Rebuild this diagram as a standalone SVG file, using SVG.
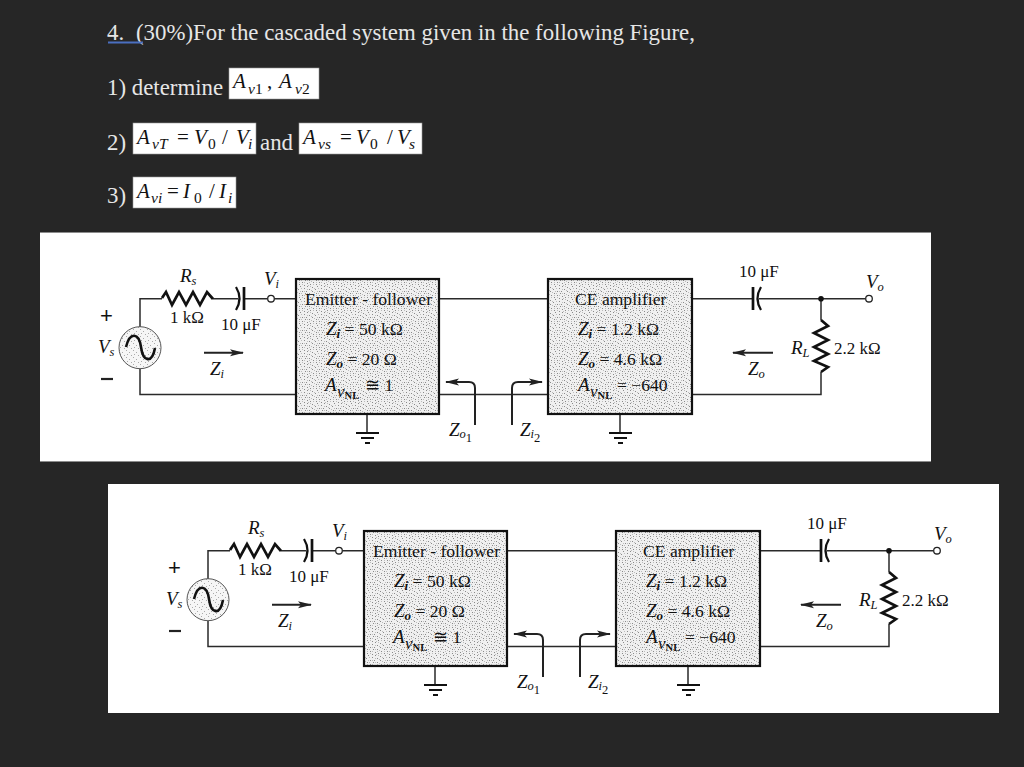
<svg xmlns="http://www.w3.org/2000/svg" width="1024" height="767" viewBox="0 0 1024 767">
<style>
.q{font-family:"Liberation Serif",serif;fill:#e6e6e6;font-size:22.85px}
.m{font-family:"Liberation Serif",serif;fill:#111;font-size:21px;font-style:italic}
.n{font-style:normal}
.s{font-size:15.5px}
.t{font-family:"Liberation Serif",serif;fill:#111;font-size:17.6px}
.l{font-size:17px}
.i{font-style:italic;font-size:19px}
.sub{font-size:12.5px}
.sb{font-size:13px;font-weight:bold}
.v{font-style:italic;font-size:17px}
.nl{font-size:10.5px;font-style:normal;font-weight:bold}
.w{fill:none;stroke:#2a2a2a;stroke-width:1.5}
.h{fill:none;stroke:#111;stroke-width:2.7}
.c{fill:none;stroke:#111;stroke-width:2.2}
.a{fill:none;stroke:#222;stroke-width:2}
.g{stroke:#111;stroke-width:2.2;fill:none}
.box{fill:url(#stip);stroke:#111;stroke-width:2.2}
.src{fill:url(#stipL);stroke:#555;stroke-width:1}
.pm{font-family:"Liberation Sans",sans-serif;fill:#111;font-size:22px}
</style>
<defs>
<pattern id="stip" width="17" height="13" patternUnits="userSpaceOnUse">
<rect width="17" height="13" fill="#f0f0f0"/>
<path d="M1 0h1v1H1zM6 1h1v1H6zM11 0h1v1h-1zM15 2h1v1h-1zM3 3h1v1H3zM9 3h1v1H9zM13 5h1v1h-1zM0 5h1v1H0zM6 5h1v1H6zM3 7h1v1H3zM10 7h1v1h-1zM16 7h1v1h-1zM7 9h1v1H7zM1 10h1v1H1zM13 9h1v1h-1zM4 11h1v1H4zM10 11h1v1h-1zM15 12h1v1h-1z" fill="#8a8a8a"/>
<path d="M4 0h1v1H4zM8 2h1v1H8zM12 2h1v1h-1zM1 3h1v1H1zM5 4h1v1H5zM11 5h1v1h-1zM15 5h1v1h-1zM8 6h1v1H8zM1 7h1v1H1zM5 8h1v1H5zM12 7h1v1h-1zM15 9h1v1h-1zM3 9h1v1H3zM10 9h1v1h-1zM7 11h1v1H7zM13 11h1v1h-1zM2 12h1v1H2z" fill="#bdbdbd"/>
</pattern>
<pattern id="stipL" width="7" height="7" patternUnits="userSpaceOnUse">
<rect width="7" height="7" fill="#f6f6f6"/>
<path d="M0 0h1v1H0zM3 2h1v1H3zM1 4h1v1H1zM5 5h1v1H5z" fill="#aaa"/>
</pattern>
<marker id="ah" viewBox="0 0 14 8" refX="13" refY="4" markerWidth="14" markerHeight="8" markerUnits="userSpaceOnUse" orient="auto">
<path d="M0 0.5L14 4L0 7.5L3 4z" fill="#222"/>
</marker>
</defs>
<rect width="1024" height="767" fill="#262626"/>

<g id="question">
<text class="q" x="107" y="40">4.</text>
<text class="q" x="136" y="40">(30%)For the cascaded system given in the following Figure,</text>
<path d="M108 42.5H143" stroke="#4a6fc0" stroke-width="2"/>
<text class="q" x="107" y="95">1) determine</text>
<rect x="229" y="68" width="90" height="31" fill="#fff" stroke="#999" stroke-width="0.6"/>
<text class="m" y="88"><tspan x="233">A</tspan><tspan class="s" x="248" y="94">v</tspan><tspan class="s n" x="255" y="94">1</tspan><tspan class="n" x="267" y="88">,</tspan><tspan x="279">A</tspan><tspan class="s" x="295" y="94">v</tspan><tspan class="s n" x="302" y="94">2</tspan></text>
<text class="q" x="107" y="150">2)</text>
<rect x="133" y="123" width="123" height="31" fill="#fff" stroke="#999" stroke-width="0.6"/>
<text class="m" y="144"><tspan x="137">A</tspan><tspan class="s" x="152" y="149">vT</tspan><tspan class="n" x="177" y="144">=</tspan><tspan x="194">V</tspan><tspan class="s n" x="208" y="149">0</tspan><tspan class="n" x="222" y="144">/</tspan><tspan x="236">V</tspan><tspan class="s" x="248" y="149">i</tspan></text>
<text class="q" x="260" y="150">and</text>
<rect x="299" y="123" width="123" height="31" fill="#fff" stroke="#999" stroke-width="0.6"/>
<text class="m" y="144"><tspan x="303">A</tspan><tspan class="s" x="318" y="149">vs</tspan><tspan class="n" x="340" y="144">=</tspan><tspan x="356">V</tspan><tspan class="s n" x="370" y="149">0</tspan><tspan class="n" x="387" y="144">/</tspan><tspan x="397">V</tspan><tspan class="s" x="409" y="149">s</tspan></text>
<text class="q" x="107" y="203">3)</text>
<rect x="133" y="177" width="103" height="31" fill="#fff" stroke="#999" stroke-width="0.6"/>
<text class="m" y="198"><tspan x="137">A</tspan><tspan class="s" x="151" y="203">vi</tspan><tspan class="n" x="167" y="198">=</tspan><tspan x="183">I</tspan><tspan class="s n" x="194" y="203">0</tspan><tspan class="n" x="209" y="198">/</tspan><tspan x="219">I</tspan><tspan class="s" x="228" y="203">i</tspan></text>
</g>

<g id="figure1">
<rect x="40" y="233" width="891" height="229" fill="#fff"/>
<path d="M40 232.5H931M40 461.5H931" stroke="#8c8c8c" stroke-width="1"/>
<g id="connectors1">
<path class="w" d="M140 327V298.7H162M213 298.7H238M244 298.7H267.5M274.5 298.7H296M439 298.7H548M692 298.7H753M759 298.7H865.5"/>
<path class="w" d="M140 369V394.5H296M439 394.5H548M692 394.5H821V372M821 298.7V320"/>
<path class="w" d="M367 414V433M620 414V433"/>
<path class="h" d="M162 298L166 292L172 305L179 292L186 305L193 292L200 305L207 292L213 299"/>
<path class="h" d="M821 320L828 326L814 333L828 340L814 347L828 354L814 361L828 367L821 372"/>
<path class="h" d="M244 287V310"/>
<path class="c" d="M236 287Q243 298.5 236 310"/>
<path class="h" d="M753 287V310"/>
<path class="c" d="M761 287Q754 298.5 761 310"/>
<path class="a" d="M204 352.7H243" marker-end="url(#ah)"/>
<path class="a" d="M773 352.7H733" marker-end="url(#ah)"/>
<path class="a" d="M475 425V388Q475 382 469 382H446" marker-end="url(#ah)"/>
<path class="a" d="M512 425V388Q512 382 518 382H542" marker-end="url(#ah)"/>
<path class="g" d="M356 433H379M361 438H374M365 443H370"/>
<path class="g" d="M609 433H632M614 438H627M618 443H623"/>
<circle cx="271" cy="298.7" r="3.3" fill="#fff" stroke="#222" stroke-width="1.3"/>
<circle cx="869" cy="298.7" r="3.3" fill="#fff" stroke="#222" stroke-width="1.3"/>
<circle cx="821" cy="298.7" r="2.8" fill="#111"/>
</g>
<g id="source1">
<circle class="src" cx="140" cy="347.7" r="21"/>
<path d="M126 347C130 331 139 333 141 347C143 362 152 364 155 348" fill="none" stroke="#111" stroke-width="2.6"/>
<text class="pm" x="106.500" y="323" text-anchor="middle">+</text>
<path d="M101 379H113" stroke="#222" stroke-width="2.2"/>
<text class="t" x="98" y="353"><tspan class="i">V</tspan><tspan class="i sub" dy="3">s</tspan></text>
</g>
<g id="labels1">
<text class="t" x="180" y="282"><tspan class="i">R</tspan><tspan class="i sub" dy="3">s</tspan></text>
<text class="t l" x="170" y="323">1 kΩ</text>
<text class="t l" x="221" y="330">10 μF</text>
<text class="t" x="264" y="285"><tspan class="i">V</tspan><tspan class="i sub" dy="3">i</tspan></text>
<text class="t" x="210" y="375"><tspan class="i">Z</tspan><tspan class="i sub" dy="3">i</tspan></text>
<text class="t" x="449" y="436"><tspan class="i">Z</tspan><tspan class="i sub" dy="2">o</tspan><tspan class="sub" dy="4">1</tspan></text>
<text class="t" x="520" y="436"><tspan class="i">Z</tspan><tspan class="i sub" dy="2">i</tspan><tspan class="sub" dy="4">2</tspan></text>
<text class="t l" x="739" y="277">10 μF</text>
<text class="t" x="866" y="288"><tspan class="i">V</tspan><tspan class="i sub" dy="3">o</tspan></text>
<text class="t" x="791" y="354"><tspan class="i">R</tspan><tspan class="i sub" dy="3">L</tspan></text>
<text class="t l" x="834" y="354">2.2 kΩ</text>
<text class="t" x="748" y="375"><tspan class="i">Z</tspan><tspan class="i sub" dy="3">o</tspan></text>
</g>
<g id="follower1">
<rect class="box" x="296" y="279" width="143" height="135"/>
<text class="t" x="305" y="305">Emitter - follower</text>
<text class="t" y="335"><tspan class="i" x="326">Z</tspan><tspan class="i sb" dy="3">i</tspan><tspan dy="-3"> = 50 kΩ</tspan></text>
<text class="t" y="365"><tspan class="i" x="326">Z</tspan><tspan class="i sb" dy="3">o</tspan><tspan dy="-3"> = 20 Ω</tspan></text>
<text class="t" y="391"><tspan class="i" x="325">A</tspan><tspan class="v" x="337" dy="6">v</tspan><tspan class="nl" dy="2">NL</tspan><tspan x="365" y="391">≅ 1</tspan></text>
</g>
<g id="ce1">
<rect class="box" x="548" y="279" width="144" height="135"/>
<text class="t" x="575" y="305">CE amplifier</text>
<text class="t" y="335"><tspan class="i" x="578">Z</tspan><tspan class="i sb" dy="3">i</tspan><tspan dy="-3"> = 1.2 kΩ</tspan></text>
<text class="t" y="365"><tspan class="i" x="578">Z</tspan><tspan class="i sb" dy="3">o</tspan><tspan dy="-3"> = 4.6 kΩ</tspan></text>
<text class="t" y="391"><tspan class="i" x="578">A</tspan><tspan class="v" x="590" dy="6">v</tspan><tspan class="nl" dy="2">NL</tspan><tspan x="617" y="391">= −640</tspan></text>
</g>
</g>

<g id="figure2">
<rect x="108" y="484" width="891" height="229" fill="#fff"/>
<g transform="translate(68 252)">
<g id="connectors2">
<path class="w" d="M140 327V298.7H162M213 298.7H238M244 298.7H267.5M274.5 298.7H296M439 298.7H548M692 298.7H753M759 298.7H865.5"/>
<path class="w" d="M140 369V394.5H296M439 394.5H548M692 394.5H821V372M821 298.7V320"/>
<path class="w" d="M367 414V433M620 414V433"/>
<path class="h" d="M162 298L166 292L172 305L179 292L186 305L193 292L200 305L207 292L213 299"/>
<path class="h" d="M821 320L828 326L814 333L828 340L814 347L828 354L814 361L828 367L821 372"/>
<path class="h" d="M244 287V310"/>
<path class="c" d="M236 287Q243 298.5 236 310"/>
<path class="h" d="M753 287V310"/>
<path class="c" d="M761 287Q754 298.5 761 310"/>
<path class="a" d="M204 352.7H243" marker-end="url(#ah)"/>
<path class="a" d="M773 352.7H733" marker-end="url(#ah)"/>
<path class="a" d="M475 425V388Q475 382 469 382H446" marker-end="url(#ah)"/>
<path class="a" d="M512 425V388Q512 382 518 382H542" marker-end="url(#ah)"/>
<path class="g" d="M356 433H379M361 438H374M365 443H370"/>
<path class="g" d="M609 433H632M614 438H627M618 443H623"/>
<circle cx="271" cy="298.7" r="3.3" fill="#fff" stroke="#222" stroke-width="1.3"/>
<circle cx="869" cy="298.7" r="3.3" fill="#fff" stroke="#222" stroke-width="1.3"/>
<circle cx="821" cy="298.7" r="2.8" fill="#111"/>
</g>
<g id="source2">
<circle class="src" cx="140" cy="347.7" r="21"/>
<path d="M126 347C130 331 139 333 141 347C143 362 152 364 155 348" fill="none" stroke="#111" stroke-width="2.6"/>
<text class="pm" x="106.500" y="323" text-anchor="middle">+</text>
<path d="M101 379H113" stroke="#222" stroke-width="2.2"/>
<text class="t" x="98" y="353"><tspan class="i">V</tspan><tspan class="i sub" dy="3">s</tspan></text>
</g>
<g id="labels2">
<text class="t" x="180" y="282"><tspan class="i">R</tspan><tspan class="i sub" dy="3">s</tspan></text>
<text class="t l" x="170" y="323">1 kΩ</text>
<text class="t l" x="221" y="330">10 μF</text>
<text class="t" x="264" y="285"><tspan class="i">V</tspan><tspan class="i sub" dy="3">i</tspan></text>
<text class="t" x="210" y="375"><tspan class="i">Z</tspan><tspan class="i sub" dy="3">i</tspan></text>
<text class="t" x="449" y="436"><tspan class="i">Z</tspan><tspan class="i sub" dy="2">o</tspan><tspan class="sub" dy="4">1</tspan></text>
<text class="t" x="520" y="436"><tspan class="i">Z</tspan><tspan class="i sub" dy="2">i</tspan><tspan class="sub" dy="4">2</tspan></text>
<text class="t l" x="739" y="277">10 μF</text>
<text class="t" x="866" y="288"><tspan class="i">V</tspan><tspan class="i sub" dy="3">o</tspan></text>
<text class="t" x="791" y="354"><tspan class="i">R</tspan><tspan class="i sub" dy="3">L</tspan></text>
<text class="t l" x="834" y="354">2.2 kΩ</text>
<text class="t" x="748" y="375"><tspan class="i">Z</tspan><tspan class="i sub" dy="3">o</tspan></text>
</g>
<g id="follower2">
<rect class="box" x="296" y="279" width="143" height="135"/>
<text class="t" x="305" y="305">Emitter - follower</text>
<text class="t" y="335"><tspan class="i" x="326">Z</tspan><tspan class="i sb" dy="3">i</tspan><tspan dy="-3"> = 50 kΩ</tspan></text>
<text class="t" y="365"><tspan class="i" x="326">Z</tspan><tspan class="i sb" dy="3">o</tspan><tspan dy="-3"> = 20 Ω</tspan></text>
<text class="t" y="391"><tspan class="i" x="325">A</tspan><tspan class="v" x="337" dy="6">v</tspan><tspan class="nl" dy="2">NL</tspan><tspan x="365" y="391">≅ 1</tspan></text>
</g>
<g id="ce2">
<rect class="box" x="548" y="279" width="144" height="135"/>
<text class="t" x="575" y="305">CE amplifier</text>
<text class="t" y="335"><tspan class="i" x="578">Z</tspan><tspan class="i sb" dy="3">i</tspan><tspan dy="-3"> = 1.2 kΩ</tspan></text>
<text class="t" y="365"><tspan class="i" x="578">Z</tspan><tspan class="i sb" dy="3">o</tspan><tspan dy="-3"> = 4.6 kΩ</tspan></text>
<text class="t" y="391"><tspan class="i" x="578">A</tspan><tspan class="v" x="590" dy="6">v</tspan><tspan class="nl" dy="2">NL</tspan><tspan x="617" y="391">= −640</tspan></text>
</g>
</g>
</g>
</svg>
